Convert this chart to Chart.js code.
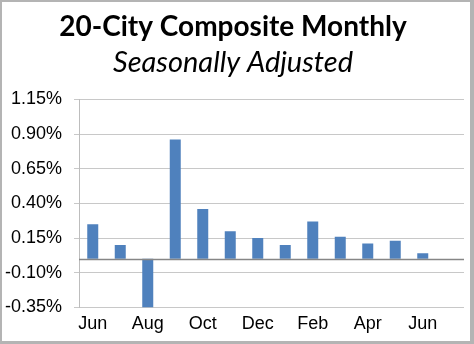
<!DOCTYPE html>
<html lang="en">
<head>
    <meta charset="UTF-8">
    <title>20-City Composite Monthly</title>
    <script src="https://cdn.jsdelivr.net/npm/chart.js"></script>
    <style>
        html, body { margin: 0; padding: 0; background: #fff; }
        .frame {
            width: 474px; height: 344px; box-sizing: border-box;
            border-style: solid; border-color: #b4b4b4;
            border-width: 2px 4px 3px 2px;
        }
        .chart-box { position: relative; width: 468px; height: 339px; }
    </style>
</head>
<body>
    <div class="frame">
        <div class="chart-box">
            <canvas id="hpi-chart"></canvas>
        </div>
    </div>

    <script>
        // month labels (last slot is left empty, like the source chart)
        const months = ['Jun', 'Jul', 'Aug', 'Sep', 'Oct', 'Nov', 'Dec', 'Jan', 'Feb', 'Mar', 'Apr', 'May', 'Jun', 'Jul'];
        // monthly change, percent
        const monthlyChange = [0.25, 0.10, -0.35, 0.86, 0.36, 0.20, 0.15, 0.10, 0.27, 0.16, 0.11, 0.13, 0.04, null];
        const yMin = -0.35;
        const yMax = 1.15;
        const yStep = 0.25;

        // draws the dark line at 0%
        const zeroLine = {
            id: 'zeroLine',
            afterDatasetsDraw(chart) {
                const { ctx, chartArea, scales } = chart;
                const y = Math.round(scales.y.getPixelForValue(0)) + 0.5;
                ctx.save();
                ctx.strokeStyle = '#868686';
                ctx.lineWidth = 1.5;
                ctx.beginPath();
                ctx.moveTo(chartArea.left, y);
                ctx.lineTo(chartArea.right, y);
                ctx.stroke();
                ctx.restore();
            }
        };

        new Chart(document.getElementById('hpi-chart'), {
            type: 'bar',
            data: {
                labels: months,
                datasets: [{
                    data: monthlyChange,
                    backgroundColor: '#4f81bd',
                    barPercentage: 0.4,
                    categoryPercentage: 1.0
                }]
            },
            options: {
                responsive: true,
                maintainAspectRatio: false,
                animation: false,
                layout: { padding: { left: 0, right: 6, top: 8, bottom: 0 } },
                plugins: {
                    legend: { display: false },
                    tooltip: { enabled: false },
                    title: {
                        display: true,
                        text: '20-City Composite Monthly',
                        color: '#000',
                        font: { family: 'Lato', size: 28, weight: 'bold' },
                        padding: { top: 0, bottom: 2 }
                    },
                    subtitle: {
                        display: true,
                        text: 'Seasonally Adjusted',
                        color: '#000',
                        font: { family: 'Lato', size: 29, style: 'italic' },
                        padding: { top: 0, bottom: 19 }
                    }
                },
                scales: {
                    x: {
                        grid: { display: false, drawTicks: false },
                        border: { display: false },
                        ticks: {
                            autoSkip: false,
                            maxRotation: 0,
                            color: '#000',
                            font: { family: 'Liberation Sans', size: 18 },
                            padding: 6,
                            callback: (v, i) => (i % 2 === 0 ? months[i] : '')
                        }
                    },
                    y: {
                        min: yMin,
                        max: yMax,
                        // the source chart lets "-0.35%" run into the frame
                        afterFit: scale => { scale.width = 77; },
                        ticks: {
                            stepSize: yStep,
                            color: '#000',
                            font: { family: 'Liberation Sans', size: 18 },
                            padding: 12,
                            callback: v => v.toFixed(2) + '%'
                        },
                        grid: { color: '#c8c8c8', lineWidth: 1, tickLength: 5 },
                        border: { color: '#bdbdbd' }
                    }
                }
            },
            plugins: [zeroLine]
        });
    </script>
</body>
</html>
